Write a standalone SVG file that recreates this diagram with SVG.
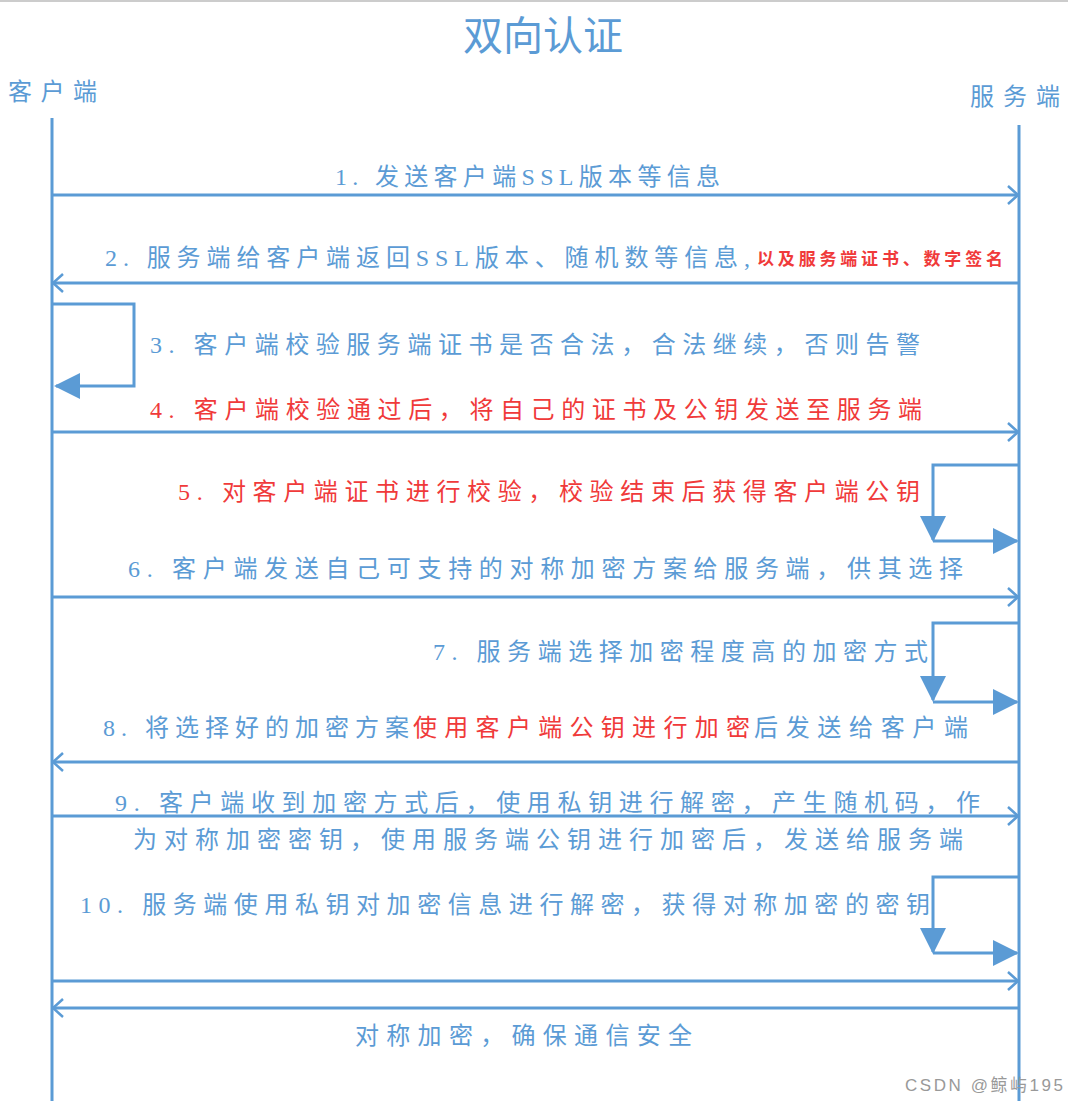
<svg xmlns="http://www.w3.org/2000/svg" width="1068" height="1101" viewBox="0 0 1068 1101">
<defs>
<style>
.l{stroke:#5b9bd5;stroke-width:3;fill:none}
.t{font-family:"Liberation Serif","Noto Sans CJK SC",serif;font-size:24px;fill:#5b9bd5}
.r{fill:#f03a3a}
</style>
<marker id="o" viewBox="0 0 12 20" refX="11" refY="10" markerWidth="12" markerHeight="20" markerUnits="userSpaceOnUse" orient="auto"><path d="M1,1 L11,10 L1,19" fill="none" stroke="#5b9bd5" stroke-width="2.5"/></marker>
<marker id="f" viewBox="0 0 26 26" refX="24" refY="13" markerWidth="26" markerHeight="26" markerUnits="userSpaceOnUse" orient="auto"><path d="M0,0 L26,13 L0,26Z" fill="#5b9bd5"/></marker>
</defs>
<rect width="1068" height="1101" fill="#fff"/>
<line x1="0" y1="1" x2="1068" y2="1" stroke="#999" stroke-width="1"/>
<text x="543" y="50" text-anchor="middle" class="t" font-size="40" style="font-size:40px">双向认证</text>
<g id="client"><text x="8" y="100" class="t" textLength="89">客户端</text><line class="l" x1="52" y1="118" x2="52" y2="1101"/></g>
<g id="server"><text x="970" y="105" class="t" textLength="90">服务端</text><line class="l" x1="1019" y1="125" x2="1019" y2="1101"/></g>
<g id="connectors">
<line class="l" x1="52" y1="195" x2="1018" y2="195" marker-end="url(#o)"/>
<line class="l" x1="1019" y1="283" x2="53" y2="283" marker-end="url(#o)"/>
<polyline class="l" points="52,304 134,304 134,386 56,386" marker-end="url(#f)"/>
<line class="l" x1="52" y1="432" x2="1018" y2="432" marker-end="url(#o)"/>
<polyline class="l" points="1019,465 933,465 933,540" marker-end="url(#f)"/>
<line class="l" x1="933" y1="541" x2="1017" y2="541" marker-end="url(#f)"/>
<line class="l" x1="52" y1="597" x2="1018" y2="597" marker-end="url(#o)"/>
<polyline class="l" points="1019,623 933,623 933,700" marker-end="url(#f)"/>
<line class="l" x1="933" y1="702" x2="1017" y2="702" marker-end="url(#f)"/>
<line class="l" x1="1019" y1="762" x2="53" y2="762" marker-end="url(#o)"/>
<line class="l" x1="52" y1="816" x2="1018" y2="816" marker-end="url(#o)"/>
<polyline class="l" points="1019,877 933,877 933,952" marker-end="url(#f)"/>
<line class="l" x1="933" y1="953" x2="1017" y2="953" marker-end="url(#f)"/>
<line class="l" x1="52" y1="981" x2="1018" y2="981" marker-end="url(#o)"/>
<line class="l" x1="1019" y1="1008" x2="53" y2="1008" marker-end="url(#o)"/>
</g>
<g id="labels">
<text x="335" y="185" class="t" textLength="385">1. 发送客户端SSL版本等信息</text>
<text x="105" y="266" class="t" textLength="645">2. 服务端给客户端返回SSL版本、随机数等信息,</text>
<text x="757" y="265" class="t r" style="font-size:17px;font-weight:bold" textLength="246">以及服务端证书、数字签名</text>
<text x="150" y="353" class="t" textLength="770">3. 客户端校验服务端证书是否合法，合法继续，否则告警</text>
<text x="150" y="418" class="t r" textLength="772">4. 客户端校验通过后，将自己的证书及公钥发送至服务端</text>
<text x="178" y="500" class="t r" textLength="742">5. 对客户端证书进行校验，校验结束后获得客户端公钥</text>
<text x="128" y="577" class="t" textLength="835">6. 客户端发送自己可支持的对称加密方案给服务端，供其选择</text>
<text x="433" y="660" class="t" textLength="495">7. 服务端选择加密程度高的加密方式</text>
<text x="103" y="736" class="t" textLength="306">8. 将选择好的加密方案</text>
<text x="413" y="736" class="t r" textLength="337">使用客户端公钥进行加密</text>
<text x="754" y="736" class="t" textLength="214">后发送给客户端</text>
<text x="115" y="811" class="t" textLength="865">9. 客户端收到加密方式后，使用私钥进行解密，产生随机码，作</text>
<text x="133" y="848" class="t" textLength="830">为对称加密密钥，使用服务端公钥进行加密后，发送给服务端</text>
<text x="80" y="913" class="t" textLength="850">10. 服务端使用私钥对加密信息进行解密，获得对称加密的密钥</text>
<text x="355" y="1044" class="t" textLength="337">对称加密，确保通信安全</text>
<text x="905" y="1091" style="font-family:'Liberation Sans','Noto Sans CJK SC',sans-serif;font-size:17px;fill:#999" textLength="158">CSDN @鲸屿195</text>
</g>
</svg>
